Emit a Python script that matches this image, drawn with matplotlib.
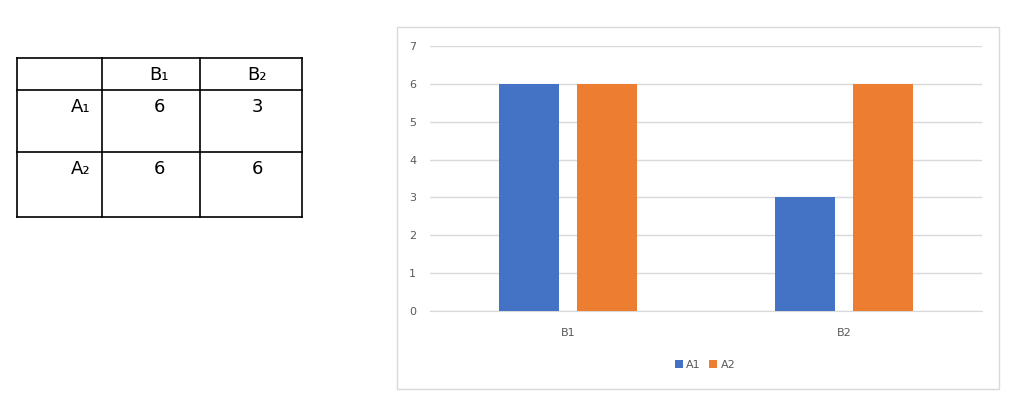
import matplotlib.pyplot as plt
import numpy as np

# data
cats = ['B1', 'B2']
a1 = [6, 3]
a2 = [6, 6]
row_labels = ['A\u2081', 'A\u2082']
col_labels = ['B\u2081', 'B\u2082']
blue = '#4472C4'
orange = '#ED7D31'

fig = plt.figure(figsize=(10.24, 4.16), dpi=100)

# page-coordinate overlay for the table and chart frame
bg = fig.add_axes([0, 0, 1, 1])
bg.set_xlim(0, 1024)
bg.set_ylim(416, 0)
bg.axis('off')

# table grid
xs = [17, 102, 200, 302]
ys = [58, 90, 152, 217]
for x in xs:
    bg.plot([x, x], [ys[0], ys[-1]], color='black', lw=1.2)
for y in ys:
    bg.plot([xs[0], xs[-1]], [y, y], color='black', lw=1.2)

tfont = dict(family='DejaVu Sans', fontsize=13, color='black')
col_c = [(xs[1] + xs[2]) / 2 + 8, (xs[2] + xs[3]) / 2 + 6]
for j, lab in enumerate(col_labels):
    bg.text(col_c[j], 75, lab, ha='center', va='center', **tfont)
vals = [a1, a2]
for i, lab in enumerate(row_labels):
    yy = ys[i + 1] + 17
    bg.text(90, yy, lab, ha='right', va='center', **tfont)
    for j in range(2):
        bg.text(col_c[j], yy, str(vals[i][j]), ha='center', va='center', **tfont)

# chart frame
bg.add_patch(plt.Rectangle((397, 27), 602, 362, fill=False, edgecolor='#D9D9D9', lw=1))

# bar chart
ax = fig.add_axes([430 / 1024, 1 - 311 / 416, 552 / 1024, 265 / 416])
x = np.arange(len(cats))
w = 0.218
ax.bar(x - 0.141, a1, w, color=blue, label='A1', zorder=3)
ax.bar(x + 0.141, a2, w, color=orange, label='A2', zorder=3)
ax.set_xlim(-0.5, 1.5)
ax.set_ylim(0, 7)
ax.set_yticks(range(8))
ax.set_xticks(x)
ax.set_xticklabels(cats)
ax.yaxis.grid(True, color='#D9D9D9', lw=1, zorder=0)
for s in ['top', 'right', 'left']:
    ax.spines[s].set_visible(False)
ax.spines['bottom'].set_color('#D9D9D9')
ax.tick_params(length=0, labelsize=8, colors='#595959', pad=10)
ax.tick_params(axis='x', pad=12)

fig.legend(loc='center', bbox_to_anchor=(705 / 1024, 1 - 365 / 416), ncol=2, frameon=False,
           fontsize=8, labelcolor='#595959', handlelength=0.7, handleheight=0.7,
           handletextpad=0.3, columnspacing=0.8)

fig.savefig('out.png', dpi=100)
